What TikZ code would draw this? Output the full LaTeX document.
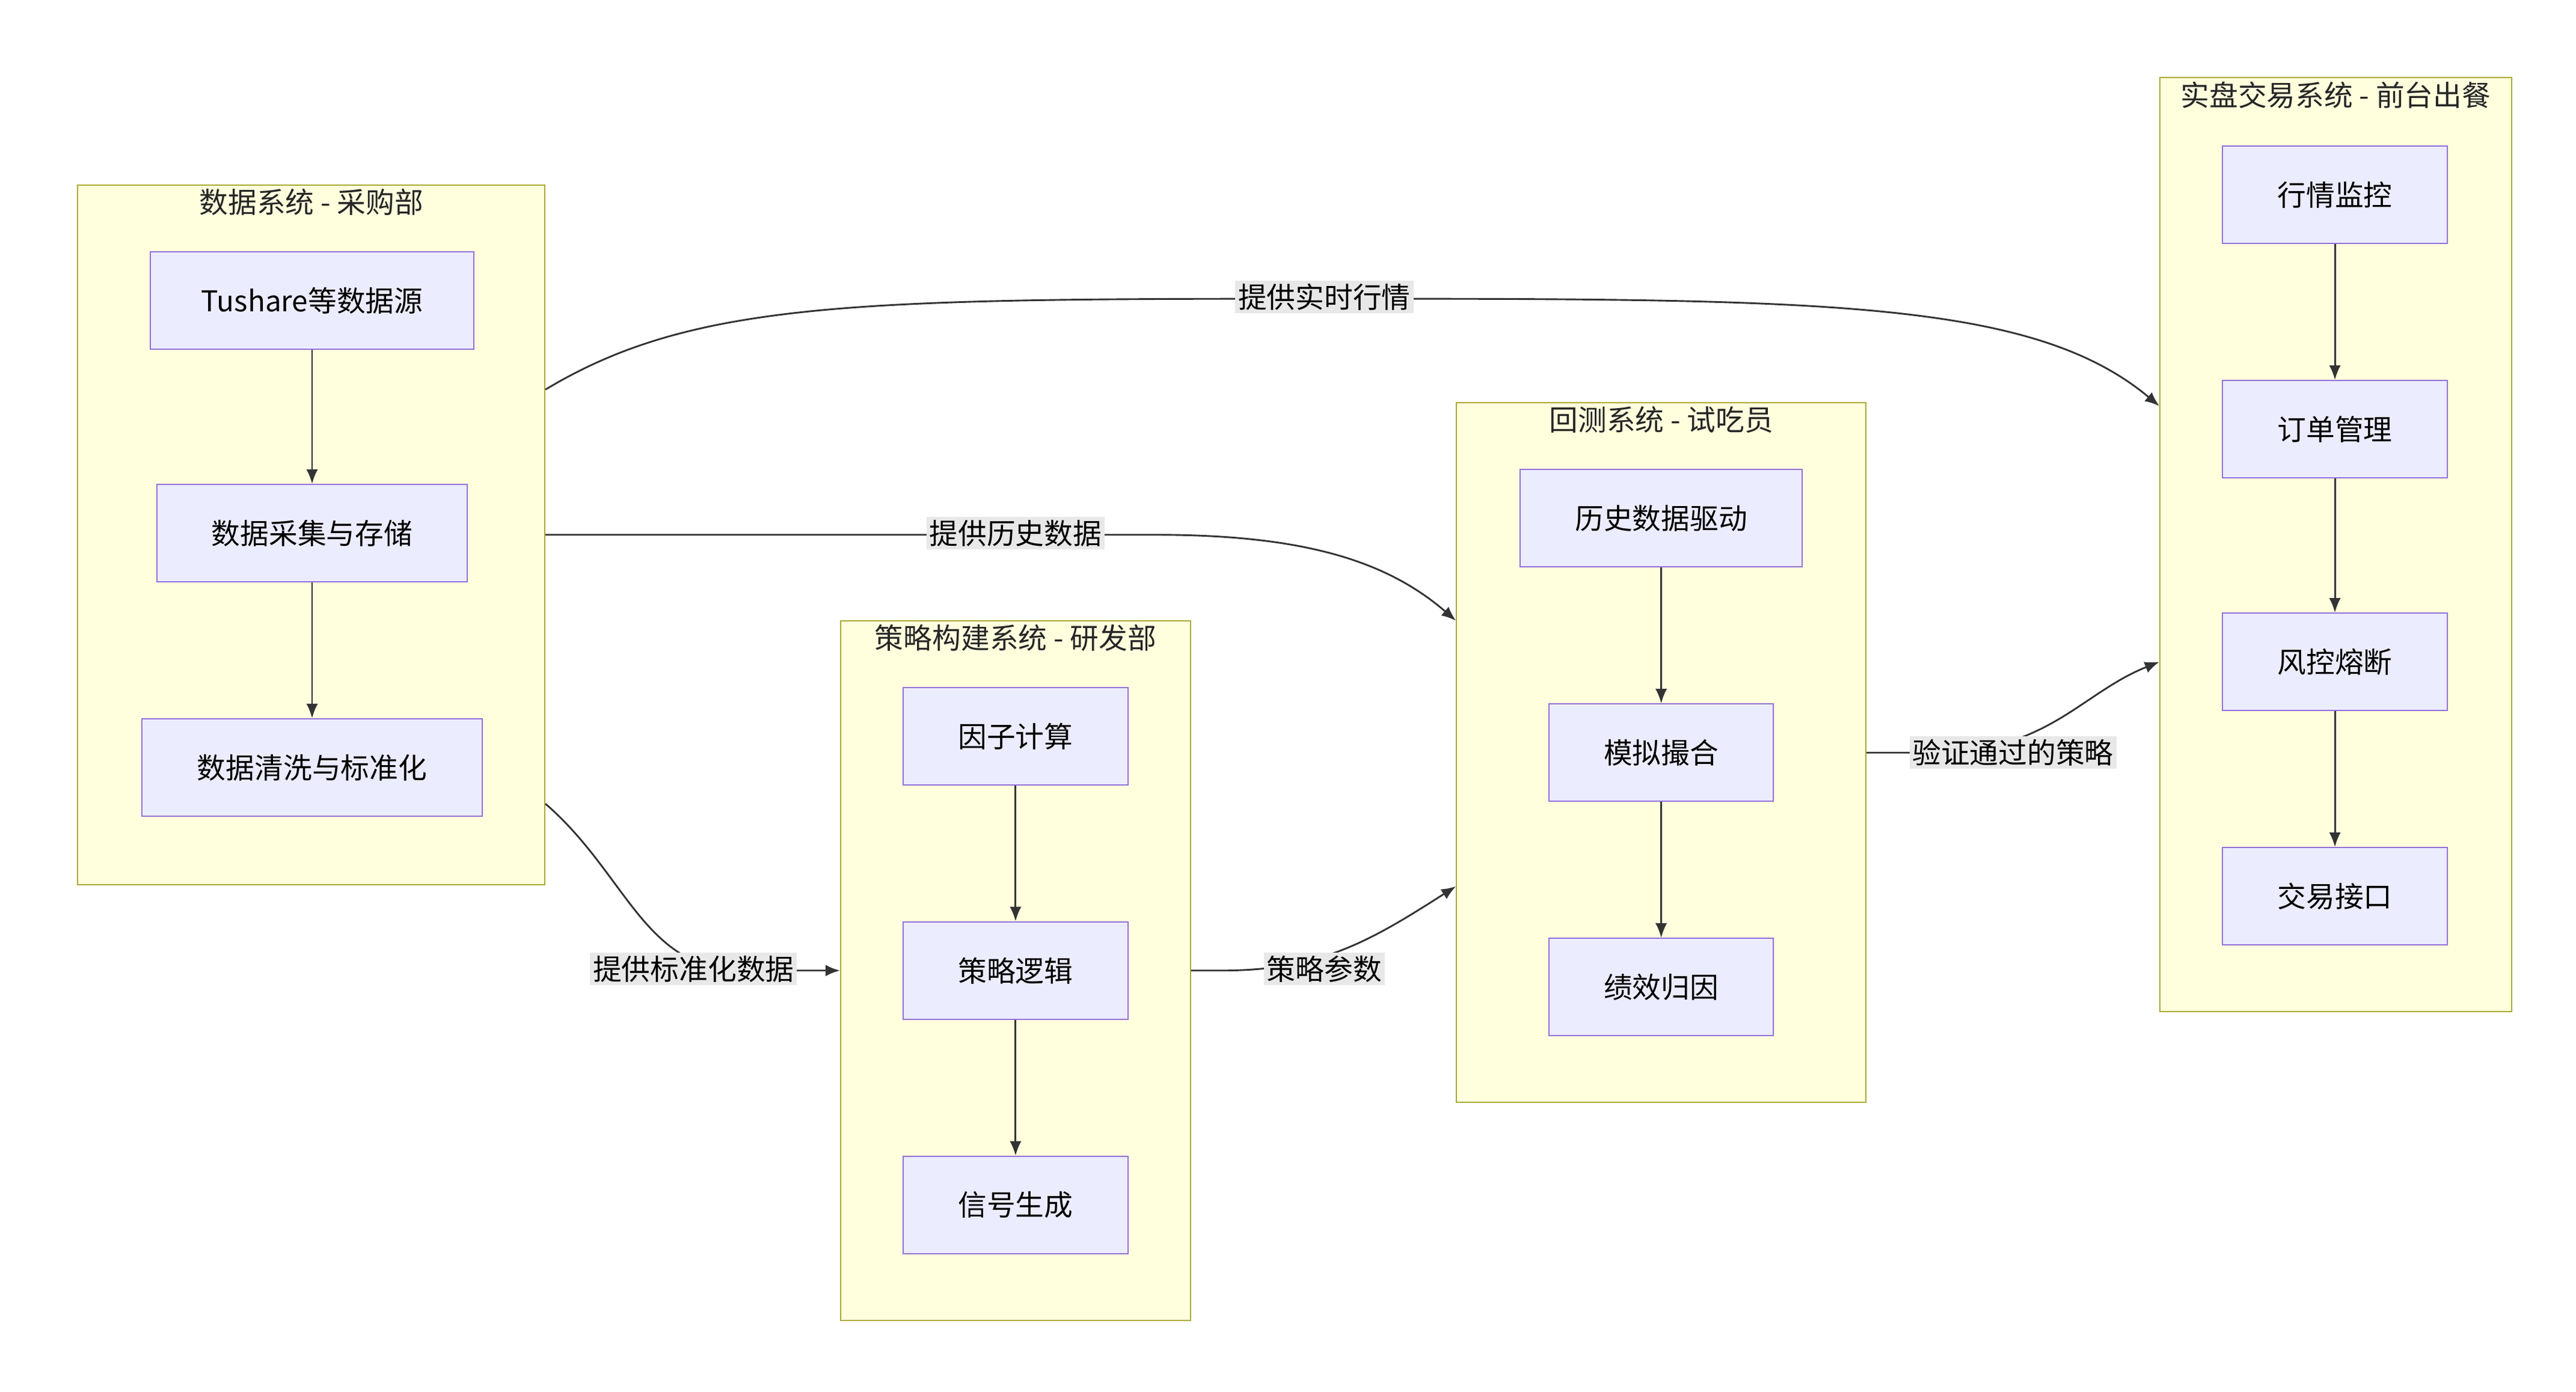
\documentclass[tikz,border=0pt]{standalone}
\usepackage{fontspec}
\setmainfont{Noto Sans CJK SC}
\usetikzlibrary{arrows.meta,positioning}
\definecolor{clfill}{HTML}{FFFFDE}
\definecolor{cldraw}{HTML}{AAAA33}
\definecolor{ndfill}{HTML}{ECECFF}
\definecolor{nddraw}{HTML}{9370DB}
\definecolor{lnk}{HTML}{333333}
\definecolor{lblbg}{HTML}{E8E8E8}

\begin{document}
\begin{tikzpicture}[
    x=0.02cm, y=-0.02cm,
    font=\fontsize{9.9}{12}\selectfont,
    cluster/.style={rectangle, draw=cldraw, fill=clfill, thin},
    title/.style={anchor=north, inner sep=0pt, text=black!85},
    box/.style={rectangle, draw=nddraw, fill=ndfill, thin, minimum width=2.72cm, minimum height=1.18cm, align=center},
    arrow/.style={-{Latex[length=5pt,width=4pt]}, draw=lnk, semithick},
    lbl/.style={fill=lblbg, inner sep=1pt}
]
    \useasboundingbox (0,0) rectangle (1560,843);

    % Clusters
    \node[cluster, minimum width=5.66cm, minimum height=8.48cm] (data) at (188.5,324) {};
    \node[title] at (188.5,114) {数据系统 - 采购部};
    \node[cluster, minimum width=4.24cm, minimum height=8.48cm] (strat) at (615,588) {};
    \node[title] at (615,378) {策略构建系统 - 研发部};
    \node[cluster, minimum width=4.96cm, minimum height=8.48cm] (back) at (1006,456) {};
    \node[title] at (1006,246) {回测系统 - 试吃员};
    \node[cluster, minimum width=4.26cm, minimum height=11.32cm] (live) at (1414.5,330) {};
    \node[title] at (1414.5,49) {实盘交易系统 - 前台出餐};

    % Data system
    \node[box, minimum width=3.92cm] (src) at (189,182) {Tushare等数据源};
    \node[box, minimum width=3.76cm] (store) at (189,323) {数据采集与存储};
    \node[box, minimum width=4.12cm] (clean) at (189,465) {数据清洗与标准化};

    % Strategy
    \node[box] (factor) at (615,446) {因子计算};
    \node[box] (logic) at (615,588) {策略逻辑};
    \node[box] (signal) at (615,730) {信号生成};

    % Backtest
    \node[box, minimum width=3.42cm] (hist) at (1006,314) {历史数据驱动};
    \node[box] (match) at (1006,456) {模拟撮合};
    \node[box] (perf) at (1006,598) {绩效归因};

    % Live trading
    \node[box] (quote) at (1414,118) {行情监控};
    \node[box] (order) at (1414,260) {订单管理};
    \node[box] (risk) at (1414,401) {风控熔断};
    \node[box] (api) at (1414,543) {交易接口};

    % Arrows inside clusters
    \draw[arrow] (src) -- (store);
    \draw[arrow] (store) -- (clean);
    \draw[arrow] (factor) -- (logic);
    \draw[arrow] (logic) -- (signal);
    \draw[arrow] (hist) -- (match);
    \draw[arrow] (match) -- (perf);
    \draw[arrow] (quote) -- (order);
    \draw[arrow] (order) -- (risk);
    \draw[arrow] (risk) -- (api);

    % Arrows between clusters
    \draw[arrow] ([yshift=1.76cm]data.east) .. controls (420,182) and (520,181) .. (802,181)
        .. controls (1100,181) and (1230,181) .. ([yshift=1.68cm]live.west);
    \node[lbl] at (802,180) {提供实时行情};
    \draw[arrow] (data.east) -- (700,324) .. controls (790,324) and (840,340) .. ([yshift=1.6cm]back.west);
    \node[lbl] at (615,323) {提供历史数据};
    \draw[arrow] ([yshift=-3.26cm]data.east) .. controls (380,530) and (390,588) .. (450,588) -- (strat.west);
    \node[lbl] at (420,587) {提供标准化数据};
    \draw[arrow] (strat.east) -- (740,588) .. controls (800,588) and (830,570) .. ([yshift=-1.62cm]back.west);
    \node[lbl] at (802,587) {策略参数};
    \draw[arrow] (back.east) -- (1170,456) .. controls (1240,456) and (1260,420) .. ([yshift=-1.42cm]live.west);
    \node[lbl] at (1219,456) {验证通过的策略};
\end{tikzpicture}
\end{document}
